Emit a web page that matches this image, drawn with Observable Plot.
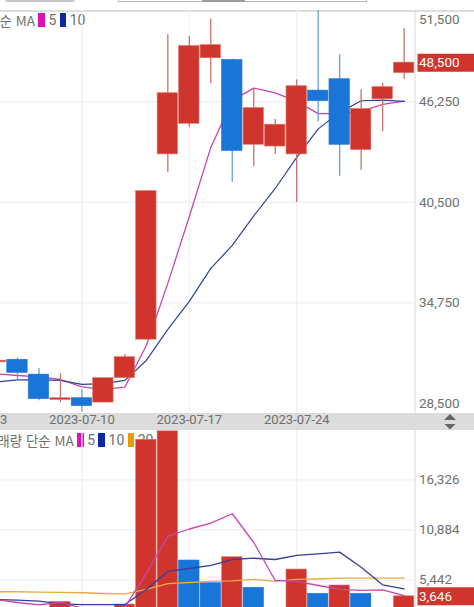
<!DOCTYPE html>
<html lang="ko">
<head>
<meta charset="utf-8">
<script src="https://cdn.jsdelivr.net/npm/d3@7"></script>
<script src="https://cdn.jsdelivr.net/npm/@observablehq/plot@0.6"></script>
<style>
  html, body { margin: 0; padding: 0; background: #fff; overflow: hidden; }
  #page { position: relative; width: 474px; height: 607px; overflow: hidden; font-family: Roboto, "Noto Sans CJK KR", sans-serif; color: #707070; }
  #page > * { position: absolute; }
  #page svg { display: block; }
  .band { left: 0; top: 412.5px; width: 474px; height: 17.5px; background: #dcdcdc; }
  .topline { left: 0; top: 10px; width: 474px; height: 1.5px; background: #dedede; }
  .legend { display: flex; align-items: center; height: 14px; font-size: 14px; line-height: 14px; white-space: nowrap; }
  .legend i { display: inline-block; width: 6.7px; height: 14px; margin: 0 3.4px 0 3.4px; }
  .legend .name { font-family: "Noto Sans CJK KR", sans-serif; font-size: 13.5px; }
  .tab1 { left: 5px; top: -1px; width: 70px; height: 2.5px; background: #c4c4c4; border-radius: 0 0 3px 3px; }
  .tab2 { left: 118px; top: -1px; width: 249px; height: 2.5px; background: #fff; border: 0.7px solid #b5b5b5; box-sizing: border-box; }
  .tab3 { left: 202px; top: -1px; width: 43px; height: 2.5px; background: #9c9c9c; }
  .up, .down { left: 444px; width: 12px; height: 6px; background: #666; }
  .up { top: 414px; clip-path: polygon(50% 0, 100% 100%, 0 100%); }
  .down { top: 423.5px; clip-path: polygon(0 0, 100% 0, 50% 100%); }
</style>
</head>
<body>
<div id="page">
  <div class="tab1"></div><div class="tab2"></div><div class="tab3"></div>
  <div class="band"></div>
  <div class="topline"></div>
  <div class="up"></div><div class="down"></div>
</div>
<script>
const RED = "#cf352c", BLUE = "#1a75d8", MAGENTA = "#c845b0", NAVY = "#34409a", ORANGE = "#e8ab42";
const dates = ["2023-07-03","2023-07-04","2023-07-05","2023-07-06","2023-07-07","2023-07-10","2023-07-11","2023-07-12","2023-07-13","2023-07-14","2023-07-17","2023-07-18","2023-07-19","2023-07-20","2023-07-21","2023-07-24","2023-07-25","2023-07-26","2023-07-27","2023-07-28","2023-07-31"];
const days = dates.slice(1);
const dateTicks = ["2023-07-03","2023-07-10","2023-07-17","2023-07-24"];

const open  = [31350,31500,30650,29200,29300,29050,30450,32650,43250,45000,48750,48650,43800,43700,43250,46900,47550,43500,46400,47900];
const close = [31450,30750,29250,29300,28850,30450,31650,41150,46750,49450,49500,43450,45900,44950,47150,46300,43800,45850,47100,48500];
const high  = [31500,31600,31000,30700,29800,30450,31800,41150,50100,50000,51000,48700,47000,45250,47500,51500,48950,46950,47300,50450];
const low   = [31300,30350,29150,29050,28500,29050,30450,32650,42200,44800,47300,41650,42550,43250,40500,45100,42000,42350,44550,47550];
const priceMA5  = [30690,30600,30520,30370,29950,29800,29930,32320,35870,39700,43650,46340,47040,46770,46280,45580,45590,45710,46110,46300];
const priceMA10 = [30230,30350,30350,30320,30090,30130,30320,31460,33240,34840,36730,38040,39730,41300,43080,44710,45650,46320,46350,46280];

const volume = [1700,1900,2100,3040,1500,1600,2750,20680,21600,7540,5070,7900,4570,1800,6560,3920,4820,3920,2000,3646];
const volumeDir = ["down","down","down","up","down","up","up","up","up","down","down","up","down","up","up","down","up","down","up","up"];
const volMA5  = [3300,2970,2720,2970,2370,2210,2480,6130,10160,10970,11600,12630,9500,5370,5260,4820,4390,4280,4350,3730];
const volMA10 = [3300,3240,3110,2830,2750,2750,2750,4390,6350,6670,7000,7650,7790,7650,8090,8270,8450,6810,4900,4460];
const volMA20 = [4140,4140,4100,4080,4030,3950,3920,4390,5020,5150,5260,5330,5480,5260,5480,5530,5620,5620,5620,5620];

const priceTicks = [46250,40500,34750];
const priceTop = 51500, priceBottom = 28500, lastPrice = 48500;
const volumeTicks = [16326,10884,5442];
const lastVolume = 3646;

const candles = days.map((d,i) => ({date:d, open:open[i], close:close[i], high:high[i], low:low[i], ma5:priceMA5[i], ma10:priceMA10[i]}));
const vols = days.map((d,i) => ({date:d, v:volume[i], dir:volumeDir[i], ma5:volMA5[i], ma10:volMA10[i], ma20:volMA20[i]}));

const xScale = {type:"band", domain:dates, range:[-37.28,414.9], padding:0.05, round:false};
const GRID = "#eef0f5", EDGE = "#e2e2e2", LABEL = "#707070";
const fmt = d3.format(",");
const tag = {draw(c){ c.rect(2.5,-9,60,18); }};
const yLabel = (ticks, extra={}) => Plot.axisY(ticks, {anchor:"right", tickSize:0, tickPadding:4, tickFormat:fmt, label:null, fontSize:13.5, fill:LABEL, ...extra});
const isUp = d => d.close >= d.open;

const price = Plot.plot({
  width:474, height:430, marginTop:9.7, marginBottom:18.3, marginLeft:0, marginRight:59.5,
  style:{background:"transparent", fontFamily:"Roboto, sans-serif"},
  x:{...xScale, axis:null},
  y:{domain:[priceBottom,priceTop], axis:null},
  marks:[
    Plot.ruleX(dateTicks,{stroke:GRID, strokeWidth:1.2}),
    Plot.ruleY(priceTicks,{stroke:GRID, strokeWidth:1.2}),
    Plot.frame({anchor:"right", stroke:EDGE, strokeWidth:1.3}),
    Plot.line(candles,{x:"date", y:"ma5", stroke:MAGENTA, strokeWidth:1.3}),
    Plot.line(candles,{x:"date", y:"ma10", stroke:NAVY, strokeWidth:1.2}),
    Plot.ruleX(candles,{x:"date", y1:"low", y2:"high", stroke:d => isUp(d) ? "#c9706e" : "#6a9fd2", strokeWidth:1.3}),
    Plot.barY(candles,{x:"date", y1:"open", y2:"close", fill:d => isUp(d) ? RED : BLUE, stroke:d => isUp(d) ? "#e2766c" : BLUE, strokeWidth:0.6}),
    Plot.axisX(dateTicks,{anchor:"bottom", tickSize:0, tickPadding:3, label:null, fontSize:13, fill:LABEL}),
    yLabel(priceTicks),
    yLabel([priceTop],{dy:9.3}),
    yLabel([priceBottom],{dy:-8.7}),
    Plot.dot([lastPrice],{y:d => d, frameAnchor:"right", symbol:tag, fill:RED, stroke:"none"}),
    yLabel([lastPrice],{fill:"#fff"})
  ]
});

const volumePlot = Plot.plot({
  width:474, height:177, marginTop:0, marginBottom:0, marginLeft:0, marginRight:59.5,
  style:{background:"transparent", fontFamily:"Roboto, sans-serif"},
  x:{...xScale, axis:null},
  y:{domain:[0,21690], range:[199.3,0], axis:null},
  marks:[
    Plot.ruleX(dateTicks,{stroke:GRID, strokeWidth:1.2}),
    Plot.ruleY(volumeTicks,{stroke:GRID, strokeWidth:1.2}),
    Plot.frame({anchor:"right", stroke:EDGE, strokeWidth:1.3}),
    Plot.barY(vols,{x:"date", y:"v", fill:d => d.dir === "up" ? RED : BLUE, stroke:d => d.dir === "up" ? "#e2766c" : BLUE, strokeWidth:0.6}),
    Plot.line(vols,{x:"date", y:"ma20", stroke:ORANGE, strokeWidth:1.3}),
    Plot.line(vols,{x:"date", y:"ma10", stroke:NAVY, strokeWidth:1.3}),
    Plot.line(vols,{x:"date", y:"ma5", stroke:MAGENTA, strokeWidth:1.3}),
    yLabel(volumeTicks),
    Plot.dot([lastVolume],{y:d => d, frameAnchor:"right", symbol:tag, fill:RED, stroke:"none"}),
    yLabel([lastVolume],{fill:"#fff"})
  ]
});

function legend(name, items, right, top) {
  const el = document.createElement("div");
  el.className = "legend";
  el.style.top = top + "px";
  el.style.right = (474 - right) + "px";
  el.innerHTML = `<span class="name">${name}</span>` + items.map(([c,t]) => `<i style="background:${c}"></i><span>${t}</span>`).join("");
  return el;
}
const page = document.getElementById("page");
page.append(legend("단순 MA", [["#e012b4","5"],["#0c28a8","10"]], 85.5, 13));
page.append(legend("거래량 단순 MA", [["#e012b4","5"],["#0c28a8","10"],["#e99c00","20"]], 153.5, 433));
price.style.cssText += ";position:absolute;left:0;top:0;";
volumePlot.style.cssText += ";position:absolute;left:0;top:430px;";
page.append(price, volumePlot);
</script>
</body>
</html>
